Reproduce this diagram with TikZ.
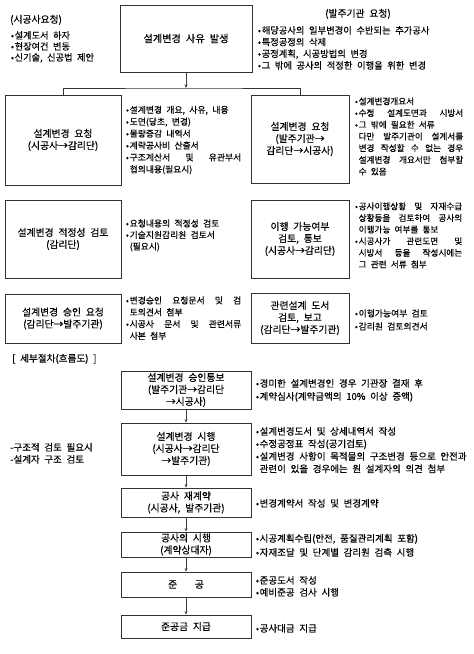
\documentclass[tikz,border=0pt]{standalone}
\usepackage{fontspec}
\setmainfont{Noto Sans CJK KR}[WordSpace=2.2,FakeBold=0.35]
\usetikzlibrary{arrows.meta}
\newcommand{\bu}{\makebox[4.5pt][c]{•}}
\newcommand{\ind}{\hspace*{4.5pt}}
\newcommand{\jl}[2]{\makebox[#1pt][s]{#2}}
\tikzset{
  bx/.style={draw=black!80, line width=0.75pt, align=center, inner sep=1pt,
    text=black, font=\fontsize{9.8}{12}\selectfont},
  side/.style={anchor=north west, inner sep=0pt, align=left, text=black},
  arr/.style={draw=black!75, line width=0.5pt, -{Stealth[length=3.5pt,width=3pt]}},
  ln/.style={draw=black!80, line width=0.6pt},
}
\begin{document}
\begin{tikzpicture}[x=1pt,y=-1pt]
\useasboundingbox (0,0) rectangle (474,654);
% ---- upper part boxes
\node[bx, minimum width=132, minimum height=67, font=\fontsize{10.2}{12}\selectfont] (occur) at (186,38.5) {설계변경 사유 발생};
\node[bx, minimum width=116, minimum height=90] (req1) at (63,140) {설계변경 요청\\(시공사→감리단)};
\node[bx, minimum width=98, minimum height=88] (req2) at (300,139) {설계변경 요청\\(발주기관→\\감리단→시공사)};
\node[bx, minimum width=116, minimum height=78] (rev1) at (63,239) {설계변경 적정성 검토\\(감리단)};
\node[bx, minimum width=98, minimum height=78] (rev2) at (300,239) {이행 가능여부\\검토, 통보\\(시공사→감리단)};
\node[bx, minimum width=116, minimum height=49] (apr1) at (63,318.5) {설계변경 승인 요청\\(감리단→발주기관)};
\node[bx, minimum width=98, minimum height=50] (apr2) at (300,318) {관련설계 도서\\검토, 보고\\(감리단→발주기관)};
% ---- connectors upper
\coordinate (split) at (186,88);
\draw[arr] (occur) -- (split);
\draw[ln] (req1.north) |- (split) -| (req2.north);
% ---- upper side texts
\node[side, font=\fontsize{9.8}{12}\selectfont] (t1) at (10,14.6) {(시공사요청)};
\node[side, font=\fontsize{9.2}{11}\selectfont] (t2) at (10,31) {\bu{}설계도서 하자\\\bu{}현장여건 변동\\\bu{}신기술, 신공법 제안};
\node[side, anchor=north, font=\fontsize{9.8}{12}\selectfont] (t3) at (358,8.6) {(발주기관 요청)};
\node[side, font=\fontsize{9.3}{11.7}\selectfont] (t4) at (257,25.9) {\bu{}해당공사의 일부변경이 수반되는 추가공사\\\bu{}특정공정의 삭제\\\bu{}공정계획, 시공방법의 변경\\\bu{}그 밖에 공사의 적정한 이행을 위한 변경};
\node[side, font=\fontsize{8.8}{11.9}\selectfont] (t5) at (125,105.6) {\bu{}설계변경 개요, 사유, 내용\\\bu{}도면(당초, 변경)\\\bu{}물량증감 내역서\\\bu{}계략공사비 산출서\\\jl{116}{\bu{}구조계산서 및 유관부서}\\\ind{}협의내용(필요시)};
\node[side, font=\fontsize{8.6}{11.7}\selectfont] (t6) at (354,97.2) {\bu{}설계변경개요서\\\jl{109}{\bu{}수정 설계도면과 시방서}\\\bu{}그 밖에 필요한 서류\\\jl{109}{\ind{}다만 발주기관이 설계서를}\\\jl{109}{\ind{}변경 작성할 수 없는 경우}\\\jl{109}{\ind{}설계변경 개요서만 첨부할}\\\ind{}수 있음};
\node[side, font=\fontsize{8.8}{11.5}\selectfont] (t7) at (125,219.2) {\bu{}요청내용의 적정성 검토\\\bu{}기술지원감리원 검토서\\\ind{}(필요시)};
\node[side, font=\fontsize{8.6}{11.6}\selectfont] (t8) at (354,202.2) {\jl{108}{\bu{}공사이행상황 및 자재수급}\\\jl{108}{\ind{}상황등을 검토하여 공사의}\\\ind{}이행가능 여부를 통보\\\jl{108}{\bu{}시공사가 관련도면 및}\\\jl{108}{\ind{}시방서 등을 작성시에는}\\\ind{}그 관련 서류 첨부};
\node[side, font=\fontsize{8.8}{11.8}\selectfont] (t9) at (125,296.2) {\jl{116}{\bu{}변경승인 요청문서 및 검}\\\ind{}토의견서 첨부\\\jl{116}{\bu{}시공사 문서 및 관련서류}\\\ind{}사본 첨부};
\node[side, font=\fontsize{8.8}{13}\selectfont] (t10) at (354,309.2) {\bu{}이행가능여부 검토\\\bu{}감리원 검토의견서};
% ---- lower part
\node[side, font=\fontsize{9.6}{12}\selectfont] (t11) at (12,353.8) {[ 세부절차(흐름도) ]};
\node[bx, minimum width=130, minimum height=38] (notif) at (186,390) {설계변경 승인통보\\(발주기관→감리단\\→시공사)};
\node[bx, minimum width=130, minimum height=52] (exec) at (186,449) {설계변경 시행\\(시공사→감리단\\→발주기관)};
\node[bx, minimum width=130, minimum height=29] (recon) at (186,502.5) {공사 재계약\\(시공사, 발주기관)};
\node[bx, minimum width=130, minimum height=25] (constr) at (186,544.5) {공사의 시행\\(계약상대자)};
\node[bx, minimum width=130, minimum height=25] (compl) at (186,584.5) {준\hspace{1.8em}공};
\node[bx, minimum width=130, minimum height=23] (pay) at (186,626.5) {준공금 지급};
\draw[arr] (notif) -- (exec);
\draw[arr] (exec) -- (recon);
\draw[arr] (recon) -- (constr);
\draw[arr] (constr) -- (compl);
\draw[arr] (compl) -- (pay);
\node[side, font=\fontsize{9.5}{13}\selectfont] (t12) at (255,378.8) {\bu{}경미한 설계변경인 경우 기관장 결재 후\\\bu{}계약심사(계약금액의 10\% 이상 증액)};
\node[side, font=\fontsize{9.5}{12.5}\selectfont] (t13) at (255,426.8) {\bu{}설계변경도서 및 상세내역서 작성\\\bu{}수정공정표 작성(공기검토)\\\bu{}설계변경 사항이 목적물의 구조변경 등으로 안전과\\\ind{}관련이 있을 경우에는 원 설계자의 의견 첨부};
\node[side, font=\fontsize{9.5}{12}\selectfont] (t14) at (10,442.8) {-구조적 검토 필요시\\-설계자 구조 검토};
\node[side, font=\fontsize{9.5}{12}\selectfont] (t15) at (255,498.8) {\bu{}변경계약서 작성 및 변경계약};
\node[side, font=\fontsize{9.5}{14}\selectfont] (t16) at (255,533.8) {\bu{}시공계획수립(안전, 품질관리계획 포함)\\\bu{}자재조달 및 단계별 감리원 검측 시행};
\node[side, font=\fontsize{9.5}{12}\selectfont] (t17) at (255,575.8) {\bu{}준공도서 작성\\\bu{}예비준공 검사 시행};
\node[side, font=\fontsize{9.5}{12}\selectfont] (t18) at (255,623.8) {\bu{}공사대금 지급};
\end{tikzpicture}
\end{document}
